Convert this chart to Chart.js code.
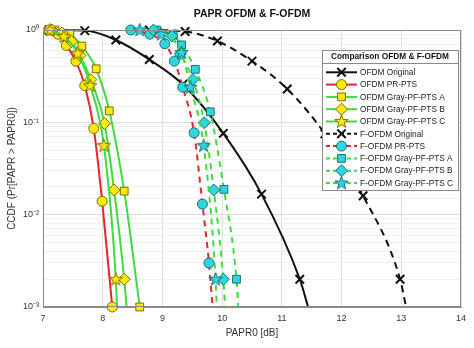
<!DOCTYPE html>
<html>
<head>
<meta charset="utf-8">
<script src="https://cdn.jsdelivr.net/npm/chart.js@4/dist/chart.umd.min.js"></script>
<style>
  html, body { margin: 0; padding: 0; background: #fff; }
</style>
</head>
<body>
<canvas id="papr" width="474" height="348"></canvas>
<script>
// Axis ticks
const xTicks = [7, 8, 9, 10, 11, 12, 13, 14];
const yTickLabels = ["10\u2070", "10\u207B\u00B9", "10\u207B\u00B2", "10\u207B\u00B3"];

const seriesNames = [
  "OFDM Original", "OFDM PR-PTS", "OFDM Gray-PF-PTS A", "OFDM Gray-PF-PTS B", "OFDM Gray-PF-PTS C",
  "F-OFDM Original", "F-OFDM PR-PTS", "F-OFDM Gray-PF-PTS A", "F-OFDM Gray-PF-PTS B", "F-OFDM Gray-PF-PTS C",
];

// marker points [PAPR0, CCDF]
const ofdmOriginal = [[7.1, 1.0], [7.7, 0.985], [8.22, 0.78], [8.78, 0.48], [9.34, 0.258], [10.02, 0.076], [10.66, 0.0167], [11.3, 0.002]];
const ofdmPrPts = [[7.1, 1.0], [7.25, 0.9], [7.39, 0.68], [7.55, 0.46], [7.7, 0.25], [7.85, 0.086], [7.99, 0.014], [8.16, 0.001]];
const ofdmGrayA = [[7.2, 1.0], [7.45, 0.91], [7.65, 0.67], [7.89, 0.38], [8.11, 0.133], [8.36, 0.018], [8.62, 0.001]];
const ofdmGrayB = [[7.15, 1.0], [7.32, 0.93], [7.48, 0.75], [7.62, 0.53], [7.8, 0.29], [8.03, 0.097], [8.19, 0.0185], [8.36, 0.002]];
const ofdmGrayC = [[7.12, 1.0], [7.35, 0.85], [7.58, 0.56], [7.79, 0.25], [8.02, 0.056], [8.22, 0.002]];
const fofdmOriginal = [[8.78, 1.0], [9.38, 0.965], [9.92, 0.76], [10.5, 0.46], [11.09, 0.23], [11.72, 0.075], [12.36, 0.016], [12.98, 0.002]];
const fofdmPrPts = [[8.47, 1.0], [8.79, 0.9], [9.04, 0.71], [9.2, 0.46], [9.34, 0.24], [9.53, 0.077], [9.67, 0.013], [9.78, 0.003]];
const fofdmGrayA = [[8.9, 1.0], [9.18, 0.88], [9.32, 0.69], [9.55, 0.375], [9.8, 0.13], [10.03, 0.0188], [10.24, 0.002]];
const fofdmGrayB = [[8.85, 1.0], [9.16, 0.86], [9.3, 0.55], [9.51, 0.29], [9.7, 0.099], [9.86, 0.0185], [10.02, 0.002]];
const fofdmGrayC = [[8.62, 1.0], [8.98, 0.9], [9.32, 0.57], [9.47, 0.24], [9.69, 0.056], [9.89, 0.002]];

// where each curve leaves the plot (no marker)
const ofdmOriginalTail = [[11.44, 0.001]];
const ofdmPrPtsTail = [];
const ofdmGrayATail = [];
const ofdmGrayBTail = [[8.4, 0.001]];
const ofdmGrayCTail = [[8.24, 0.001]];
const fofdmOriginalTail = [[13.08, 0.001]];
const fofdmPrPtsTail = [[9.84, 0.001]];
const fofdmGrayATail = [[10.27, 0.001]];
const fofdmGrayBTail = [[10.05, 0.001]];
const fofdmGrayCTail = [[9.91, 0.001]];

const marks = [ofdmOriginal, ofdmPrPts, ofdmGrayA, ofdmGrayB, ofdmGrayC, fofdmOriginal, fofdmPrPts, fofdmGrayA, fofdmGrayB, fofdmGrayC];
const tails = [ofdmOriginalTail, ofdmPrPtsTail, ofdmGrayATail, ofdmGrayBTail, ofdmGrayCTail, fofdmOriginalTail, fofdmPrPtsTail, fofdmGrayATail, fofdmGrayBTail, fofdmGrayCTail];

// colours
const BLACK = "#111111", RED = "#e3262d", GREEN = "#3fdc3f";
const YEL = "#fbe80c", YEL_EDGE = "#7d6e00", CY = "#2fd6de", CY_EDGE = "#1b6f78";
const FONT = "'Liberation Sans', Arial, sans-serif";

function makeStar(fill, edge) {
  const c = document.createElement("canvas");
  c.width = 15; c.height = 15;
  const g = c.getContext("2d");
  g.beginPath();
  for (let i = 0; i < 10; i++) {
    const r = i % 2 ? 2.8 : 7;
    const a = -Math.PI / 2 + i * Math.PI / 5;
    g.lineTo(7.5 + r * Math.cos(a), 7.8 + r * Math.sin(a));
  }
  g.closePath();
  g.fillStyle = fill; g.fill();
  g.lineWidth = 1; g.strokeStyle = edge; g.stroke();
  return c;
}

const styles = [
  { line: BLACK, dash: [], shape: "crossRot", fill: BLACK, edge: BLACK, r: 6, bw: 2 },
  { line: RED, dash: [], shape: "circle", fill: YEL, edge: YEL_EDGE, r: 5, bw: 1 },
  { line: GREEN, dash: [], shape: "rect", fill: YEL, edge: YEL_EDGE, r: 5.5, bw: 1 },
  { line: GREEN, dash: [], shape: "rectRot", fill: YEL, edge: YEL_EDGE, r: 6, bw: 1 },
  { line: GREEN, dash: [], shape: makeStar(YEL, YEL_EDGE), fill: YEL, edge: YEL_EDGE, r: 6, bw: 1 },
  { line: BLACK, dash: [7, 5], shape: "crossRot", fill: BLACK, edge: BLACK, r: 6, bw: 2 },
  { line: RED, dash: [6, 5], shape: "circle", fill: CY, edge: CY_EDGE, r: 5, bw: 1 },
  { line: GREEN, dash: [6, 5], shape: "rect", fill: CY, edge: CY_EDGE, r: 5.5, bw: 1 },
  { line: GREEN, dash: [6, 5], shape: "rectRot", fill: CY, edge: CY_EDGE, r: 6, bw: 1 },
  { line: GREEN, dash: [6, 5], shape: makeStar(CY, CY_EDGE), fill: CY, edge: CY_EDGE, r: 6, bw: 1 },
];

const datasets = seriesNames.map((name, i) => {
  const s = styles[i];
  const n = marks[i].length;
  return {
    label: name,
    data: marks[i].concat(tails[i]).map(p => ({ x: p[0], y: p[1] })),
    borderColor: s.line,
    borderWidth: 2,
    borderDash: s.dash,
    cubicInterpolationMode: "monotone",
    pointStyle: s.shape,
    pointRadius: ctx => (ctx.dataIndex < n ? s.r : 0),
    pointBackgroundColor: s.fill,
    pointBorderColor: s.edge,
    pointBorderWidth: s.bw,
    clip: false,
    order: -i,
  };
});

function isDecade(v) {
  const e = Math.log10(v);
  return Math.abs(e - Math.round(e)) < 1e-6;
}

// titles, box frame and the legend
const decor = {
  id: "decor",
  afterDraw(chart) {
    const { ctx, chartArea: a } = chart;
    ctx.save();
    ctx.strokeStyle = "#8a8a8a";
    ctx.lineWidth = 1;
    ctx.setLineDash([]);
    ctx.strokeRect(a.left + 0.5, a.top + 0.5, a.right - a.left - 1, a.bottom - a.top - 1);

    ctx.fillStyle = "#111";
    ctx.textAlign = "center";
    ctx.textBaseline = "middle";
    ctx.font = "bold 10.5px " + FONT;
    ctx.fillText("PAPR OFDM & F-OFDM", (a.left + a.right) / 2, 14);

    ctx.fillStyle = "#333";
    ctx.font = "10px " + FONT;
    ctx.fillText("PAPR0 [dB]", (a.left + a.right) / 2, 333);
    ctx.save();
    ctx.translate(12, (a.top + a.bottom) / 2);
    ctx.rotate(-Math.PI / 2);
    ctx.fillText("CCDF (Pr[PAPR > PAPR0])", 0, 0);
    ctx.restore();

    // legend
    const lx = 322, ly = 50, lw = 136, lh = 140;
    ctx.fillStyle = "#fff";
    ctx.fillRect(lx, ly, lw, lh);
    ctx.strokeStyle = "#8a8a8a";
    ctx.strokeRect(lx + 0.5, ly + 0.5, lw, lh);
    ctx.beginPath();
    ctx.moveTo(lx, 63.5);
    ctx.lineTo(lx + lw, 63.5);
    ctx.stroke();
    ctx.fillStyle = "#111";
    ctx.font = "bold 8.3px " + FONT;
    ctx.fillText("Comparison OFDM & F-OFDM", lx + lw / 2, 56.5);

    ctx.font = "8.3px " + FONT;
    ctx.textAlign = "left";
    seriesNames.forEach((name, i) => {
      const s = styles[i];
      const y = 72.3 + i * 12.3;
      ctx.strokeStyle = s.line;
      ctx.lineWidth = 2;
      ctx.setLineDash(s.dash.length ? [4, 3] : []);
      ctx.beginPath();
      ctx.moveTo(326, y);
      ctx.lineTo(357, y);
      ctx.stroke();
      ctx.setLineDash([]);
      ctx.fillStyle = s.fill;
      ctx.strokeStyle = s.edge;
      ctx.lineWidth = s.bw;
      Chart.helpers.drawPoint(ctx, { pointStyle: s.shape, radius: s.r, borderWidth: s.bw, rotation: 0 }, 341.5, y);
      ctx.fillStyle = "#222";
      ctx.fillText(name, 360, y + 0.5);
    });
    ctx.restore();
  },
};

new Chart(document.getElementById("papr").getContext("2d"), {
  type: "line",
  data: { datasets },
  options: {
    responsive: false,
    animation: false,
    devicePixelRatio: 1,
    layout: { padding: { top: 30, right: 13, left: 0, bottom: 0 } },
    plugins: { legend: { display: false }, tooltip: { enabled: false } },
    scales: {
      x: {
        type: "linear",
        min: xTicks[0],
        max: xTicks[xTicks.length - 1],
        afterBuildTicks: scale => { scale.ticks = xTicks.map(v => ({ value: v })); },
        afterFit: scale => { scale.height = 41; },
        ticks: { color: "#333", font: { size: 9, family: FONT }, padding: 6, maxRotation: 0 },
        grid: { color: "#dedede", drawTicks: false },
        border: { color: "#8a8a8a" },
      },
      y: {
        type: "logarithmic",
        min: 0.001,
        max: 1,
        afterFit: scale => { scale.width = 43; },
        ticks: {
          autoSkip: false,
          color: "#333",
          font: { size: 9, family: FONT },
          padding: 4,
          callback: v => (isDecade(v) ? yTickLabels[-Math.round(Math.log10(v))] : ""),
        },
        grid: {
          drawTicks: false,
          color: ctx => (ctx.tick && isDecade(ctx.tick.value) ? "#dcdcdc" : "#f0f0f0"),
        },
        border: { color: "#8a8a8a" },
      },
    },
  },
  plugins: [decor],
});
</script>
</body>
</html>
